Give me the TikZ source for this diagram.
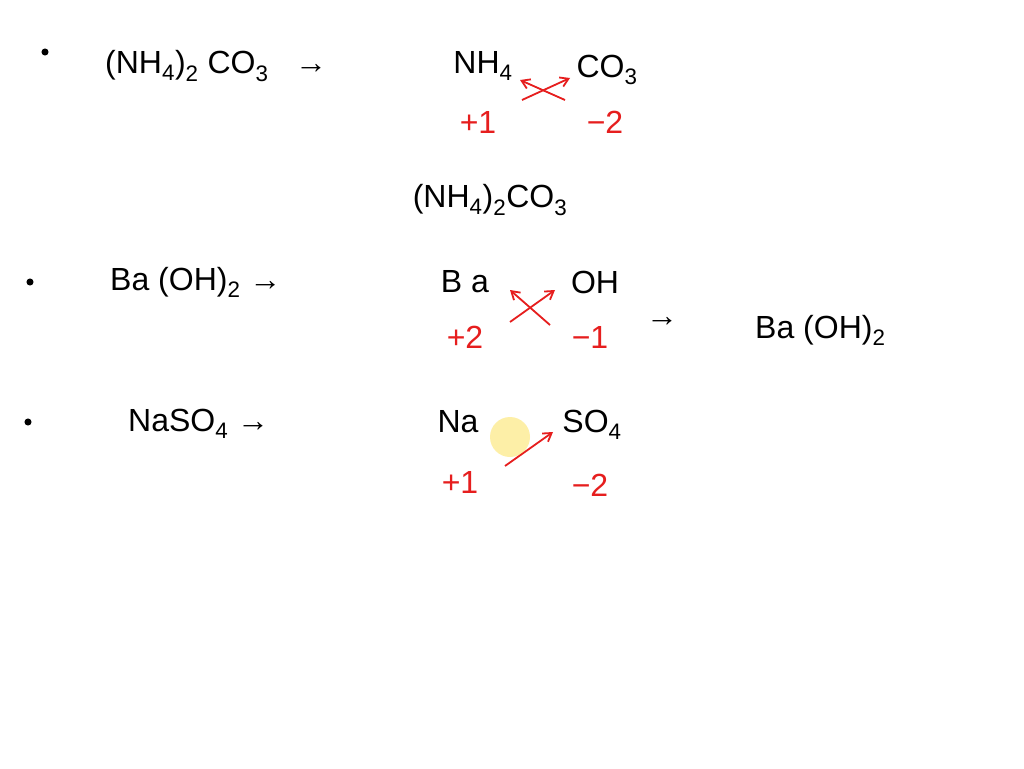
\documentclass[tikz,border=0pt]{standalone}
\usepackage{fontspec}
\setmainfont{Liberation Sans}
\usetikzlibrary{arrows.meta}
\definecolor{inkred}{RGB}{230,30,30}
\newcommand{\sbs}[1]{\textsubscript{#1}}
\begin{document}
\begin{tikzpicture}[x=1pt,y=-1pt,
  txt/.style={inner sep=0pt,font=\fontsize{32}{36}\selectfont},
  rtxt/.style={txt,text=inkred},
  redarr/.style={draw=inkred,line width=1.8pt,-{Straight Barb[length=8pt,width=10pt]}},
  dot/.style={circle,fill=black,inner sep=2.5pt}]
\useasboundingbox (0,0) rectangle (1024,768);
\fill[white] (0,0) rectangle (1024,768);
% row 1
\node[dot] (b1) at (45,52) {};
\node[txt,anchor=west] (f1) at (105,66) {(NH\sbs{4})\sbs{2} CO\sbs{3} \ \ →};
\node[txt] (nh4) at (483,66) {NH\sbs{4}};
\node[txt] (co3) at (607,70) {CO\sbs{3}};
\node[rtxt] (p1) at (478,122) {+1};
\node[rtxt] (m2) at (605,122) {−2};
\coordinate (c1a) at (522,100); \coordinate (c1b) at (570,78);
\coordinate (c1c) at (565,100); \coordinate (c1d) at (520,80);
\draw[redarr] (c1a) -- (c1b);
\draw[redarr] (c1c) -- (c1d);
\node[txt] (r1) at (490,200) {(NH\sbs{4})\sbs{2}CO\sbs{3}};
% row 2
\node[dot] (b2) at (30,282) {};
\node[txt,anchor=west] (f2) at (110,282) {Ba (OH)\sbs{2} →};
\node[txt] (ba) at (465,282) {B a};
\node[txt] (oh) at (595,282) {OH};
\node[rtxt] (p2) at (465,337) {+2};
\node[rtxt] (m1) at (590,337) {−1};
\coordinate (c2a) at (510,322); \coordinate (c2b) at (555,290);
\coordinate (c2c) at (550,325); \coordinate (c2d) at (510,290);
\draw[redarr] (c2a) -- (c2b);
\draw[redarr] (c2c) -- (c2d);
\node[txt] (ar2) at (662,322) {→};
\node[txt,anchor=west] (r2) at (755,330) {Ba (OH)\sbs{2}};
% row 3
\node[dot] (b3) at (28,422) {};
\node[txt,anchor=west] (f3) at (128,424) {NaSO\sbs{4} →};
\node[txt] (na) at (458,422) {Na};
\node[txt] (so4) at (592,425) {SO\sbs{4}};
\node[rtxt] (p3) at (460,482) {+1};
\node[rtxt] (m3) at (590,485) {−2};
\coordinate (c3a) at (505,466); \coordinate (c3b) at (553,432);
\draw[redarr] (c3a) -- (c3b);
\node[circle,fill=yellow!70!orange,opacity=0.35,minimum size=40pt,inner sep=0pt] (cur) at (510,437) {};
\end{tikzpicture}
\end{document}
